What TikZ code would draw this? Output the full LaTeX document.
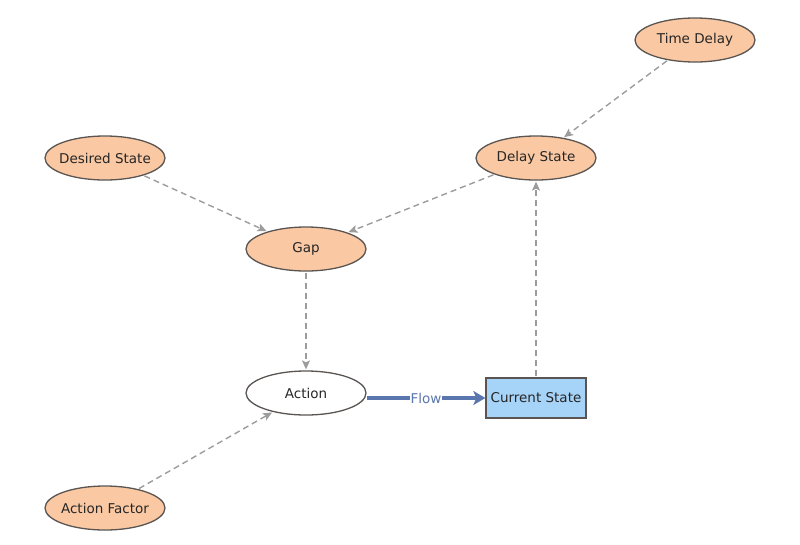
\documentclass[tikz,border=0pt]{standalone}
\usepackage{fontspec}
\setmainfont{DejaVu Sans}
\usetikzlibrary{shapes.geometric,arrows.meta}
\definecolor{peach}{HTML}{FAC8A2}
\definecolor{bord}{HTML}{5A5552}
\definecolor{cblue}{HTML}{A6D3F8}
\definecolor{dgray}{HTML}{9C9C9C}
\definecolor{flowc}{HTML}{5A76AE}
\tikzset{
  var/.style={ellipse, draw=bord, line width=1.3pt, fill=peach, minimum width=120pt, minimum height=44pt, inner ysep=0pt, inner xsep=-12pt, font=\fontsize{13.5}{15}\selectfont, text=black!85},
  actvar/.style={var, fill=white},
  stock/.style={rectangle, draw=bord, line width=1.3pt, fill=cblue, minimum width=100pt, minimum height=40pt, inner sep=0pt, font=\fontsize{13.5}{15}\selectfont, text=black!85},
  link/.style={draw=dgray, line width=1.4pt, dash pattern=on 6pt off 4pt, -{Stealth[length=9pt,width=8pt,inset=2pt]}, shorten >=1pt, shorten <=1pt},
  flowarr/.style={draw=flowc, line width=3.5pt, -{Stealth[length=12pt,width=14pt,inset=3pt]}},
}
\begin{document}
\begin{tikzpicture}[x=1pt,y=-1pt]
\useasboundingbox (0,0) rectangle (800,544);
\node[var] (td) at (695,40) {Time Delay};
\node[var] (ds) at (536,158) {Delay State};
\node[var] (des) at (105,158) {Desired State};
\node[var] (gap) at (306,249) {Gap};
\node[actvar] (act) at (306,393) {Action};
\node[stock] (cs) at (536,398) {Current State};
\node[var] (af) at (105,508) {Action Factor};
\draw[link] (td) -- (ds);
\draw[link] (des) -- (gap);
\draw[link] (ds) -- (gap);
\draw[link] (gap) -- (act);
\draw[link] (af) -- (act);
\draw[link] (cs) -- (ds);
\draw[flowarr] (act.east |- cs.west) -- node[fill=white, inner sep=1pt, text=flowc, font=\fontsize{13.5}{15}\selectfont] {Flow} (cs.west);
\end{tikzpicture}
\end{document}
